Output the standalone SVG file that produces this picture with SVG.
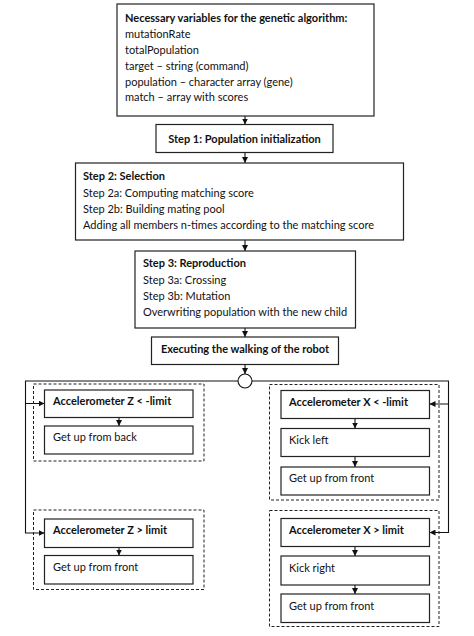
<svg xmlns="http://www.w3.org/2000/svg" width="474" height="636" viewBox="0 0 474 636">
<style>
.box{fill:#fff;stroke:#222;stroke-width:1.2}
.dash{fill:none;stroke:#222;stroke-width:1;stroke-dasharray:3,2}
.t{font-family:Lato,"Liberation Sans",sans-serif;font-size:11px;fill:#111}
.b{font-weight:bold}
.c{text-anchor:middle}
.ln{fill:none;stroke:#111;stroke-width:1.1}
</style>
<defs>
<marker id="ah" viewBox="0 0 6 6" refX="6" refY="3" markerWidth="6" markerHeight="6" markerUnits="userSpaceOnUse" orient="auto">
<path d="M0,0 L6,3 L0,6 z" fill="#111"/>
</marker>
</defs>
<rect width="474" height="636" fill="#fff"/>
<g id="connectors">
<line class="ln" x1="245" y1="116" x2="245" y2="124.5" marker-end="url(#ah)"/>
<line class="ln" x1="245" y1="152.5" x2="245" y2="163" marker-end="url(#ah)"/>
<line class="ln" x1="245" y1="240" x2="245" y2="251" marker-end="url(#ah)"/>
<line class="ln" x1="245" y1="328" x2="245" y2="337" marker-end="url(#ah)"/>
<line class="ln" x1="245" y1="364" x2="245" y2="374" marker-end="url(#ah)"/>
<polyline class="ln" points="238,381 25.5,381 25.5,403.5 44.5,403.5" marker-end="url(#ah)"/>
<polyline class="ln" points="25.5,403 25.5,533 44.5,533" marker-end="url(#ah)"/>
<polyline class="ln" points="252,381 448.5,381 448.5,404 429.5,404" marker-end="url(#ah)"/>
<polyline class="ln" points="448.5,404 448.5,532.5 429.5,532.5" marker-end="url(#ah)"/>
<line class="ln" x1="119" y1="417.5" x2="119" y2="426" marker-end="url(#ah)"/>
<line class="ln" x1="119" y1="547.5" x2="119" y2="555.5" marker-end="url(#ah)"/>
<line class="ln" x1="355" y1="418.5" x2="355" y2="428.5" marker-end="url(#ah)"/>
<line class="ln" x1="355" y1="456.5" x2="355" y2="467" marker-end="url(#ah)"/>
<line class="ln" x1="355" y1="546.5" x2="355" y2="556" marker-end="url(#ah)"/>
<line class="ln" x1="355" y1="585" x2="355" y2="594" marker-end="url(#ah)"/>
<circle cx="245" cy="381" r="7" fill="#fff" stroke="#111" stroke-width="1.1"/>
</g>
<g id="vars">
<rect class="box" x="117" y="4" width="257" height="112"/>
<text class="t b" x="125" y="22">Necessary variables for the genetic algorithm:</text>
<text class="t" x="125" y="38">mutationRate</text>
<text class="t" x="125" y="54">totalPopulation</text>
<text class="t" x="125" y="69.5">target – string (command)</text>
<text class="t" x="125" y="85.5">population – character array (gene)</text>
<text class="t" x="125" y="101">match – array with scores</text>
</g>
<g id="step1">
<rect class="box" x="156" y="124.5" width="177" height="28"/>
<text class="t b c" x="244.5" y="142.5">Step 1: Population initialization</text>
</g>
<g id="step2">
<rect class="box" x="75.5" y="163" width="328" height="77"/>
<text class="t b" x="83" y="180">Step 2: Selection</text>
<text class="t" x="83" y="197">Step 2a: Computing matching score</text>
<text class="t" x="83" y="212.5">Step 2b: Building mating pool</text>
<text class="t" x="83" y="229">Adding all members n-times according to the matching score</text>
</g>
<g id="step3">
<rect class="box" x="135" y="251" width="220.5" height="77"/>
<text class="t b" x="143" y="267">Step 3: Reproduction</text>
<text class="t" x="143" y="283.5">Step 3a: Crossing</text>
<text class="t" x="143" y="299.5">Step 3b: Mutation</text>
<text class="t" x="143" y="316">Overwriting population with the new child</text>
</g>
<g id="execute">
<rect class="box" x="151.5" y="337" width="187" height="27.5"/>
<text class="t b c" x="245" y="352.5">Executing the walking of the robot</text>
</g>
<g id="groupZneg">
<rect class="dash" x="33.5" y="384" width="170.5" height="77"/>
<rect class="box" x="44.5" y="390" width="148.5" height="27.5"/>
<text class="t b" x="53" y="405">Accelerometer Z &lt; -limit</text>
<rect class="box" x="44.5" y="426" width="148.5" height="28"/>
<text class="t" x="53" y="441">Get up from back</text>
</g>
<g id="groupZpos">
<rect class="dash" x="33.5" y="510" width="170.5" height="79.5"/>
<rect class="box" x="44.5" y="519" width="148.5" height="28.5"/>
<text class="t b" x="53" y="534">Accelerometer Z &gt; limit</text>
<rect class="box" x="44.5" y="555.5" width="148.5" height="28.5"/>
<text class="t" x="53" y="571">Get up from front</text>
</g>
<g id="groupXneg">
<rect class="dash" x="269.5" y="384.5" width="169.5" height="115.5"/>
<rect class="box" x="281" y="390.5" width="148.5" height="28"/>
<text class="t b" x="289" y="406">Accelerometer X &lt; -limit</text>
<rect class="box" x="281" y="428.5" width="148.5" height="28"/>
<text class="t" x="289" y="443.5">Kick left</text>
<rect class="box" x="281" y="467" width="148.5" height="28"/>
<text class="t" x="289" y="482">Get up from front</text>
</g>
<g id="groupXpos">
<rect class="dash" x="269.5" y="510.5" width="169.5" height="116"/>
<rect class="box" x="281" y="518.5" width="148.5" height="28"/>
<text class="t b" x="289" y="533.5">Accelerometer X &gt; limit</text>
<rect class="box" x="281" y="556" width="148.5" height="29"/>
<text class="t" x="289" y="571.5">Kick right</text>
<rect class="box" x="281" y="594" width="148.5" height="28.5"/>
<text class="t" x="289" y="609.5">Get up from front</text>
</g>
</svg>
